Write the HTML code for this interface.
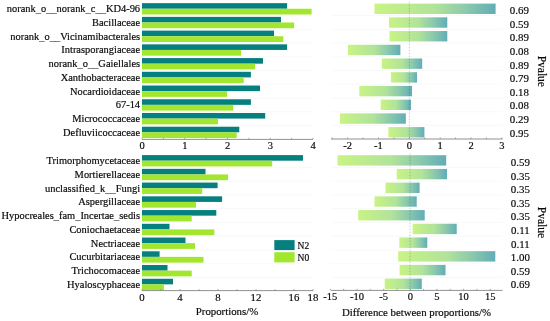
<!DOCTYPE html>
<html><head><meta charset="utf-8"><title>chart</title>
<style>html,body{margin:0;padding:0;background:#fff;overflow:hidden}svg{display:block}text{stroke:#0a0a0a;stroke-width:.18px}</style></head>
<body>
<svg width="550" height="321" viewBox="0 0 550 321" font-family="'Liberation Serif', 'Times New Roman', serif" fill="#0a0a0a">
<defs><linearGradient id="g" x1="0" y1="0" x2="1" y2="0"><stop offset="0" stop-color="#c9f384"/><stop offset="0.5" stop-color="#b1e39a"/><stop offset="0.75" stop-color="#8bcaac"/><stop offset="1" stop-color="#62adb7"/></linearGradient></defs>
<rect width="550" height="321" fill="#fff"/>
<line x1="142.0" x2="313" y1="15.58" y2="15.58" stroke="#f5f5f5" stroke-width="0.6"/>
<line x1="331" x2="502" y1="15.58" y2="15.58" stroke="#f5f5f5" stroke-width="0.6"/>
<line x1="142.0" x2="313" y1="29.31" y2="29.31" stroke="#f5f5f5" stroke-width="0.6"/>
<line x1="331" x2="502" y1="29.31" y2="29.31" stroke="#f5f5f5" stroke-width="0.6"/>
<line x1="142.0" x2="313" y1="43.04" y2="43.04" stroke="#f5f5f5" stroke-width="0.6"/>
<line x1="331" x2="502" y1="43.04" y2="43.04" stroke="#f5f5f5" stroke-width="0.6"/>
<line x1="142.0" x2="313" y1="56.77" y2="56.77" stroke="#f5f5f5" stroke-width="0.6"/>
<line x1="331" x2="502" y1="56.77" y2="56.77" stroke="#f5f5f5" stroke-width="0.6"/>
<line x1="142.0" x2="313" y1="70.50" y2="70.50" stroke="#f5f5f5" stroke-width="0.6"/>
<line x1="331" x2="502" y1="70.50" y2="70.50" stroke="#f5f5f5" stroke-width="0.6"/>
<line x1="142.0" x2="313" y1="84.23" y2="84.23" stroke="#f5f5f5" stroke-width="0.6"/>
<line x1="331" x2="502" y1="84.23" y2="84.23" stroke="#f5f5f5" stroke-width="0.6"/>
<line x1="142.0" x2="313" y1="97.96" y2="97.96" stroke="#f5f5f5" stroke-width="0.6"/>
<line x1="331" x2="502" y1="97.96" y2="97.96" stroke="#f5f5f5" stroke-width="0.6"/>
<line x1="142.0" x2="313" y1="111.69" y2="111.69" stroke="#f5f5f5" stroke-width="0.6"/>
<line x1="331" x2="502" y1="111.69" y2="111.69" stroke="#f5f5f5" stroke-width="0.6"/>
<line x1="142.0" x2="313" y1="125.42" y2="125.42" stroke="#f5f5f5" stroke-width="0.6"/>
<line x1="331" x2="502" y1="125.42" y2="125.42" stroke="#f5f5f5" stroke-width="0.6"/>
<rect x="142.0" y="3.15" width="145.10" height="5.6" fill="#06807f"/>
<rect x="142.0" y="8.75" width="169.60" height="5.75" fill="#a3e62f"/>
<rect x="374.50" y="3.60" width="121.10" height="10.4" fill="url(#g)"/>
<text x="140.1" y="12.15" font-size="10.45" text-anchor="end">norank_o__norank_c__KD4-96</text>
<text x="519.4" y="14.00" font-size="10.9" text-anchor="middle">0.69</text>
<rect x="142.0" y="16.88" width="139.00" height="5.6" fill="#06807f"/>
<rect x="142.0" y="22.48" width="152.10" height="5.75" fill="#a3e62f"/>
<rect x="389.00" y="17.32" width="58.30" height="10.4" fill="url(#g)"/>
<text x="140.1" y="25.88" font-size="10.45" text-anchor="end">Bacillaceae</text>
<text x="519.4" y="27.63" font-size="10.9" text-anchor="middle">0.59</text>
<rect x="142.0" y="30.61" width="132.00" height="5.6" fill="#06807f"/>
<rect x="142.0" y="36.21" width="141.30" height="5.75" fill="#a3e62f"/>
<rect x="389.50" y="31.04" width="57.80" height="10.4" fill="url(#g)"/>
<text x="140.1" y="39.61" font-size="10.45" text-anchor="end">norank_o__Vicinamibacterales</text>
<text x="519.4" y="41.26" font-size="10.9" text-anchor="middle">0.89</text>
<rect x="142.0" y="44.34" width="145.10" height="5.6" fill="#06807f"/>
<rect x="142.0" y="49.94" width="99.00" height="5.75" fill="#a3e62f"/>
<rect x="348.00" y="44.76" width="52.40" height="10.4" fill="url(#g)"/>
<text x="140.1" y="53.34" font-size="10.45" text-anchor="end">Intrasporangiaceae</text>
<text x="519.4" y="54.89" font-size="10.9" text-anchor="middle">0.08</text>
<rect x="142.0" y="58.07" width="121.00" height="5.6" fill="#06807f"/>
<rect x="142.0" y="63.67" width="113.00" height="5.75" fill="#a3e62f"/>
<rect x="381.80" y="58.48" width="40.40" height="10.4" fill="url(#g)"/>
<text x="140.1" y="67.07" font-size="10.45" text-anchor="end">norank_o__Gaiellales</text>
<text x="519.4" y="68.52" font-size="10.9" text-anchor="middle">0.89</text>
<rect x="142.0" y="71.80" width="108.90" height="5.6" fill="#06807f"/>
<rect x="142.0" y="77.40" width="101.70" height="5.75" fill="#a3e62f"/>
<rect x="390.90" y="72.20" width="26.10" height="10.4" fill="url(#g)"/>
<text x="140.1" y="80.80" font-size="10.45" text-anchor="end">Xanthobacteraceae</text>
<text x="519.4" y="82.15" font-size="10.9" text-anchor="middle">0.79</text>
<rect x="142.0" y="85.53" width="118.00" height="5.6" fill="#06807f"/>
<rect x="142.0" y="91.13" width="85.10" height="5.75" fill="#a3e62f"/>
<rect x="359.30" y="85.92" width="52.70" height="10.4" fill="url(#g)"/>
<text x="140.1" y="94.53" font-size="10.45" text-anchor="end">Nocardioidaceae</text>
<text x="519.4" y="95.78" font-size="10.9" text-anchor="middle">0.18</text>
<rect x="142.0" y="99.26" width="108.90" height="5.6" fill="#06807f"/>
<rect x="142.0" y="104.86" width="91.20" height="5.75" fill="#a3e62f"/>
<rect x="380.70" y="99.64" width="30.30" height="10.4" fill="url(#g)"/>
<text x="140.1" y="108.26" font-size="10.45" text-anchor="end">67-14</text>
<text x="519.4" y="109.41" font-size="10.9" text-anchor="middle">0.08</text>
<rect x="142.0" y="112.99" width="123.20" height="5.6" fill="#06807f"/>
<rect x="142.0" y="118.59" width="76.00" height="5.75" fill="#a3e62f"/>
<rect x="340.00" y="113.36" width="65.80" height="10.4" fill="url(#g)"/>
<text x="140.1" y="121.99" font-size="10.45" text-anchor="end">Micrococcaceae</text>
<text x="519.4" y="123.04" font-size="10.9" text-anchor="middle">0.29</text>
<rect x="142.0" y="126.72" width="97.30" height="5.6" fill="#06807f"/>
<rect x="142.0" y="132.32" width="94.70" height="5.75" fill="#a3e62f"/>
<rect x="388.40" y="127.08" width="36.00" height="10.4" fill="url(#g)"/>
<text x="140.1" y="135.72" font-size="10.45" text-anchor="end">Defluviicoccaceae</text>
<text x="519.4" y="136.67" font-size="10.9" text-anchor="middle">0.95</text>
<line x1="142.0" x2="313" y1="139.4" y2="139.4" stroke="#555" stroke-width="0.65"/>
<line x1="331" x2="502.5" y1="139.0" y2="139.0" stroke="#555" stroke-width="0.65"/>
<line x1="409.4" x2="409.4" y1="1.65" y2="139.4" stroke="#444" stroke-opacity="0.5" stroke-width="0.55" stroke-dasharray="1.5,1.5"/>
<line x1="142.00" x2="142.00" y1="139.4" y2="137.8" stroke="#666" stroke-width="0.5"/>
<line x1="163.38" x2="163.38" y1="139.4" y2="137.8" stroke="#666" stroke-width="0.5"/>
<line x1="184.75" x2="184.75" y1="139.4" y2="137.8" stroke="#666" stroke-width="0.5"/>
<line x1="206.12" x2="206.12" y1="139.4" y2="137.8" stroke="#666" stroke-width="0.5"/>
<line x1="227.50" x2="227.50" y1="139.4" y2="137.8" stroke="#666" stroke-width="0.5"/>
<line x1="248.88" x2="248.88" y1="139.4" y2="137.8" stroke="#666" stroke-width="0.5"/>
<line x1="270.25" x2="270.25" y1="139.4" y2="137.8" stroke="#666" stroke-width="0.5"/>
<line x1="291.62" x2="291.62" y1="139.4" y2="137.8" stroke="#666" stroke-width="0.5"/>
<line x1="313.00" x2="313.00" y1="139.4" y2="137.8" stroke="#666" stroke-width="0.5"/>
<text x="142.00" y="149" font-size="10.5" text-anchor="middle">0</text>
<text x="184.75" y="149" font-size="10.5" text-anchor="middle">1</text>
<text x="227.50" y="149" font-size="10.5" text-anchor="middle">2</text>
<text x="270.25" y="149" font-size="10.5" text-anchor="middle">3</text>
<text x="313.00" y="149" font-size="10.5" text-anchor="middle">4</text>
<line x1="332.18" x2="332.18" y1="139.0" y2="137.4" stroke="#666" stroke-width="0.5"/>
<line x1="347.60" x2="347.60" y1="139.0" y2="137.4" stroke="#666" stroke-width="0.5"/>
<line x1="363.02" x2="363.02" y1="139.0" y2="137.4" stroke="#666" stroke-width="0.5"/>
<line x1="378.45" x2="378.45" y1="139.0" y2="137.4" stroke="#666" stroke-width="0.5"/>
<line x1="393.88" x2="393.88" y1="139.0" y2="137.4" stroke="#666" stroke-width="0.5"/>
<line x1="409.30" x2="409.30" y1="139.0" y2="137.4" stroke="#666" stroke-width="0.5"/>
<line x1="424.73" x2="424.73" y1="139.0" y2="137.4" stroke="#666" stroke-width="0.5"/>
<line x1="440.15" x2="440.15" y1="139.0" y2="137.4" stroke="#666" stroke-width="0.5"/>
<line x1="455.58" x2="455.58" y1="139.0" y2="137.4" stroke="#666" stroke-width="0.5"/>
<line x1="471.00" x2="471.00" y1="139.0" y2="137.4" stroke="#666" stroke-width="0.5"/>
<line x1="486.43" x2="486.43" y1="139.0" y2="137.4" stroke="#666" stroke-width="0.5"/>
<line x1="501.85" x2="501.85" y1="139.0" y2="137.4" stroke="#666" stroke-width="0.5"/>
<text x="347.60" y="149" font-size="10.5" text-anchor="middle">-2</text>
<text x="378.45" y="149" font-size="10.5" text-anchor="middle">-1</text>
<text x="409.30" y="149" font-size="10.5" text-anchor="middle">0</text>
<text x="440.15" y="149" font-size="10.5" text-anchor="middle">1</text>
<text x="471.00" y="149" font-size="10.5" text-anchor="middle">2</text>
<text x="501.85" y="149" font-size="10.5" text-anchor="middle">3</text>
<line x1="142.0" x2="313" y1="167.54" y2="167.54" stroke="#f5f5f5" stroke-width="0.6"/>
<line x1="331" x2="502" y1="167.54" y2="167.54" stroke="#f5f5f5" stroke-width="0.6"/>
<line x1="142.0" x2="313" y1="181.28" y2="181.28" stroke="#f5f5f5" stroke-width="0.6"/>
<line x1="331" x2="502" y1="181.28" y2="181.28" stroke="#f5f5f5" stroke-width="0.6"/>
<line x1="142.0" x2="313" y1="195.02" y2="195.02" stroke="#f5f5f5" stroke-width="0.6"/>
<line x1="331" x2="502" y1="195.02" y2="195.02" stroke="#f5f5f5" stroke-width="0.6"/>
<line x1="142.0" x2="313" y1="208.76" y2="208.76" stroke="#f5f5f5" stroke-width="0.6"/>
<line x1="331" x2="502" y1="208.76" y2="208.76" stroke="#f5f5f5" stroke-width="0.6"/>
<line x1="142.0" x2="313" y1="222.50" y2="222.50" stroke="#f5f5f5" stroke-width="0.6"/>
<line x1="331" x2="502" y1="222.50" y2="222.50" stroke="#f5f5f5" stroke-width="0.6"/>
<line x1="142.0" x2="313" y1="236.24" y2="236.24" stroke="#f5f5f5" stroke-width="0.6"/>
<line x1="331" x2="502" y1="236.24" y2="236.24" stroke="#f5f5f5" stroke-width="0.6"/>
<line x1="142.0" x2="313" y1="249.98" y2="249.98" stroke="#f5f5f5" stroke-width="0.6"/>
<line x1="331" x2="502" y1="249.98" y2="249.98" stroke="#f5f5f5" stroke-width="0.6"/>
<line x1="142.0" x2="313" y1="263.72" y2="263.72" stroke="#f5f5f5" stroke-width="0.6"/>
<line x1="331" x2="502" y1="263.72" y2="263.72" stroke="#f5f5f5" stroke-width="0.6"/>
<line x1="142.0" x2="313" y1="277.46" y2="277.46" stroke="#f5f5f5" stroke-width="0.6"/>
<line x1="331" x2="502" y1="277.46" y2="277.46" stroke="#f5f5f5" stroke-width="0.6"/>
<rect x="142.0" y="155.10" width="161.00" height="5.6" fill="#06807f"/>
<rect x="142.0" y="160.70" width="130.20" height="5.75" fill="#a3e62f"/>
<rect x="337.50" y="155.20" width="108.70" height="10.4" fill="url(#g)"/>
<text x="140.1" y="164.10" font-size="10.45" text-anchor="end">Trimorphomycetaceae</text>
<text x="520.3" y="166.10" font-size="10.9" text-anchor="middle">0.59</text>
<rect x="142.0" y="168.84" width="63.50" height="5.6" fill="#06807f"/>
<rect x="142.0" y="174.44" width="86.00" height="5.75" fill="#a3e62f"/>
<rect x="396.70" y="168.91" width="50.30" height="10.4" fill="url(#g)"/>
<text x="140.1" y="177.84" font-size="10.45" text-anchor="end">Mortierellaceae</text>
<text x="520.3" y="179.68" font-size="10.9" text-anchor="middle">0.35</text>
<rect x="142.0" y="182.58" width="75.60" height="5.6" fill="#06807f"/>
<rect x="142.0" y="188.18" width="60.20" height="5.75" fill="#a3e62f"/>
<rect x="385.50" y="182.62" width="34.10" height="10.4" fill="url(#g)"/>
<text x="140.1" y="191.58" font-size="10.45" text-anchor="end">unclassified_k__Fungi</text>
<text x="520.3" y="193.26" font-size="10.9" text-anchor="middle">0.35</text>
<rect x="142.0" y="196.32" width="80.10" height="5.6" fill="#06807f"/>
<rect x="142.0" y="201.92" width="54.00" height="5.75" fill="#a3e62f"/>
<rect x="374.50" y="196.33" width="42.20" height="10.4" fill="url(#g)"/>
<text x="140.1" y="205.32" font-size="10.45" text-anchor="end">Aspergillaceae</text>
<text x="520.3" y="206.84" font-size="10.9" text-anchor="middle">0.35</text>
<rect x="142.0" y="210.06" width="74.30" height="5.6" fill="#06807f"/>
<rect x="142.0" y="215.66" width="49.70" height="5.75" fill="#a3e62f"/>
<rect x="358.20" y="210.04" width="66.50" height="10.4" fill="url(#g)"/>
<text x="140.1" y="219.06" font-size="10.45" text-anchor="end">Hypocreales_fam_Incertae_sedis</text>
<text x="520.3" y="220.42" font-size="10.9" text-anchor="middle">0.35</text>
<rect x="142.0" y="223.80" width="27.50" height="5.6" fill="#06807f"/>
<rect x="142.0" y="229.40" width="72.30" height="5.75" fill="#a3e62f"/>
<rect x="412.70" y="223.75" width="44.00" height="10.4" fill="url(#g)"/>
<text x="140.1" y="232.80" font-size="10.45" text-anchor="end">Coniochaetaceae</text>
<text x="520.3" y="234.00" font-size="10.9" text-anchor="middle">0.11</text>
<rect x="142.0" y="237.54" width="43.50" height="5.6" fill="#06807f"/>
<rect x="142.0" y="243.14" width="53.00" height="5.75" fill="#a3e62f"/>
<rect x="399.30" y="237.46" width="28.00" height="10.4" fill="url(#g)"/>
<text x="140.1" y="246.54" font-size="10.45" text-anchor="end">Nectriaceae</text>
<text x="520.3" y="247.58" font-size="10.9" text-anchor="middle">0.11</text>
<rect x="142.0" y="251.28" width="17.60" height="5.6" fill="#06807f"/>
<rect x="142.0" y="256.88" width="61.50" height="5.75" fill="#a3e62f"/>
<rect x="398.20" y="251.17" width="97.10" height="10.4" fill="url(#g)"/>
<text x="140.1" y="260.28" font-size="10.45" text-anchor="end">Cucurbitariaceae</text>
<text x="520.3" y="261.16" font-size="10.9" text-anchor="middle">1.00</text>
<rect x="142.0" y="265.02" width="25.50" height="5.6" fill="#06807f"/>
<rect x="142.0" y="270.62" width="49.70" height="5.75" fill="#a3e62f"/>
<rect x="399.60" y="264.88" width="45.90" height="10.4" fill="url(#g)"/>
<text x="140.1" y="274.02" font-size="10.45" text-anchor="end">Trichocomaceae</text>
<text x="520.3" y="274.74" font-size="10.9" text-anchor="middle">0.59</text>
<rect x="142.0" y="278.76" width="31.00" height="5.6" fill="#06807f"/>
<rect x="142.0" y="284.36" width="21.90" height="5.75" fill="#a3e62f"/>
<rect x="384.70" y="278.59" width="37.10" height="10.4" fill="url(#g)"/>
<text x="140.1" y="287.76" font-size="10.45" text-anchor="end">Hyaloscyphaceae</text>
<text x="520.3" y="288.32" font-size="10.9" text-anchor="middle">0.69</text>
<line x1="142.0" x2="313" y1="290.6" y2="290.6" stroke="#555" stroke-width="0.65"/>
<line x1="331" x2="502.5" y1="290.4" y2="290.4" stroke="#555" stroke-width="0.65"/>
<line x1="410.1" x2="410.1" y1="153.60" y2="290.6" stroke="#444" stroke-opacity="0.5" stroke-width="0.55" stroke-dasharray="1.5,1.5"/>
<line x1="142.00" x2="142.00" y1="290.6" y2="289.0" stroke="#666" stroke-width="0.5"/>
<line x1="161.00" x2="161.00" y1="290.6" y2="289.0" stroke="#666" stroke-width="0.5"/>
<line x1="180.00" x2="180.00" y1="290.6" y2="289.0" stroke="#666" stroke-width="0.5"/>
<line x1="199.00" x2="199.00" y1="290.6" y2="289.0" stroke="#666" stroke-width="0.5"/>
<line x1="218.00" x2="218.00" y1="290.6" y2="289.0" stroke="#666" stroke-width="0.5"/>
<line x1="237.00" x2="237.00" y1="290.6" y2="289.0" stroke="#666" stroke-width="0.5"/>
<line x1="256.00" x2="256.00" y1="290.6" y2="289.0" stroke="#666" stroke-width="0.5"/>
<line x1="275.00" x2="275.00" y1="290.6" y2="289.0" stroke="#666" stroke-width="0.5"/>
<line x1="294.00" x2="294.00" y1="290.6" y2="289.0" stroke="#666" stroke-width="0.5"/>
<line x1="313.00" x2="313.00" y1="290.6" y2="289.0" stroke="#666" stroke-width="0.5"/>
<text x="142.00" y="300.9" font-size="10.8" text-anchor="middle">0</text>
<text x="180.00" y="300.9" font-size="10.8" text-anchor="middle">4</text>
<text x="218.00" y="300.9" font-size="10.8" text-anchor="middle">8</text>
<text x="256.00" y="300.9" font-size="10.8" text-anchor="middle">12</text>
<text x="294.00" y="300.9" font-size="10.8" text-anchor="middle">16</text>
<text x="313.00" y="300.9" font-size="10.8" text-anchor="middle">18</text>
<line x1="330.35" x2="330.35" y1="290.4" y2="288.79999999999995" stroke="#666" stroke-width="0.5"/>
<line x1="343.68" x2="343.68" y1="290.4" y2="288.79999999999995" stroke="#666" stroke-width="0.5"/>
<line x1="357.00" x2="357.00" y1="290.4" y2="288.79999999999995" stroke="#666" stroke-width="0.5"/>
<line x1="370.33" x2="370.33" y1="290.4" y2="288.79999999999995" stroke="#666" stroke-width="0.5"/>
<line x1="383.65" x2="383.65" y1="290.4" y2="288.79999999999995" stroke="#666" stroke-width="0.5"/>
<line x1="396.98" x2="396.98" y1="290.4" y2="288.79999999999995" stroke="#666" stroke-width="0.5"/>
<line x1="410.30" x2="410.30" y1="290.4" y2="288.79999999999995" stroke="#666" stroke-width="0.5"/>
<line x1="423.62" x2="423.62" y1="290.4" y2="288.79999999999995" stroke="#666" stroke-width="0.5"/>
<line x1="436.95" x2="436.95" y1="290.4" y2="288.79999999999995" stroke="#666" stroke-width="0.5"/>
<line x1="450.27" x2="450.27" y1="290.4" y2="288.79999999999995" stroke="#666" stroke-width="0.5"/>
<line x1="463.60" x2="463.60" y1="290.4" y2="288.79999999999995" stroke="#666" stroke-width="0.5"/>
<line x1="476.93" x2="476.93" y1="290.4" y2="288.79999999999995" stroke="#666" stroke-width="0.5"/>
<line x1="490.25" x2="490.25" y1="290.4" y2="288.79999999999995" stroke="#666" stroke-width="0.5"/>
<text x="330.35" y="300.2" font-size="10.5" text-anchor="middle">-15</text>
<text x="357.00" y="300.2" font-size="10.5" text-anchor="middle">-10</text>
<text x="383.65" y="300.2" font-size="10.5" text-anchor="middle">-5</text>
<text x="410.30" y="300.2" font-size="10.5" text-anchor="middle">0</text>
<text x="436.95" y="300.2" font-size="10.5" text-anchor="middle">5</text>
<text x="463.60" y="300.2" font-size="10.5" text-anchor="middle">10</text>
<text x="490.25" y="300.2" font-size="10.5" text-anchor="middle">15</text>
<text x="227" y="314.7" font-size="10.8" text-anchor="middle">Proportions/%</text>
<text x="416.5" y="315.7" font-size="10.8" text-anchor="middle">Difference between proportions/%</text>
<text transform="translate(537.5,71.3) rotate(90)" font-size="11.5" text-anchor="middle">Pvalue</text>
<text transform="translate(537.5,222.4) rotate(90)" font-size="11.5" text-anchor="middle">Pvalue</text>
<rect x="274.3" y="240.1" width="20.3" height="10" fill="#06807f"/>
<rect x="274.3" y="252.2" width="20.3" height="10.2" fill="#a3e62f"/>
<text x="297.6" y="249" font-size="9.5">N2</text>
<text x="297.6" y="261" font-size="9.5">N0</text>
</svg>
</body></html>
